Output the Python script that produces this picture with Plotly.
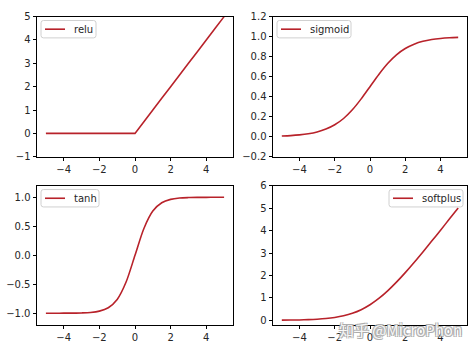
import plotly.graph_objects as go

x_vals = [-5.0, -4.5, -4.0, -3.5, -3.0, -2.5, -2.0, -1.5, -1.0, -0.5, 0.0,
          0.5, 1.0, 1.5, 2.0, 2.5, 3.0, 3.5, 4.0, 4.5, 5.0]
relu_vals = [0, 0, 0, 0, 0, 0, 0, 0, 0, 0, 0,
             0.5, 1.0, 1.5, 2.0, 2.5, 3.0, 3.5, 4.0, 4.5, 5.0]
sigmoid_vals = [0.007, 0.011, 0.018, 0.029, 0.047, 0.076, 0.119, 0.182, 0.269, 0.378, 0.5,
                0.622, 0.731, 0.818, 0.881, 0.924, 0.953, 0.971, 0.982, 0.989, 0.993]
tanh_vals = [-1.0, -1.0, -0.999, -0.998, -0.995, -0.987, -0.964, -0.905, -0.762, -0.462, 0.0,
             0.462, 0.762, 0.905, 0.964, 0.987, 0.995, 0.998, 0.999, 1.0, 1.0]
softplus_vals = [0.007, 0.011, 0.018, 0.030, 0.049, 0.079, 0.127, 0.201, 0.313, 0.474, 0.693,
                 0.974, 1.313, 1.701, 2.127, 2.579, 3.049, 3.530, 4.018, 4.511, 5.007]

names = ["relu", "sigmoid", "tanh", "softplus"]
series = [relu_vals, sigmoid_vals, tanh_vals, softplus_vals]
y_ranges = [[-1, 5], [-0.2, 1.2], [-1.2, 1.2], [-0.2, 6]]
y_ticks = [[-1, 0, 1, 2, 3, 4, 5],
           [-0.2, 0.0, 0.2, 0.4, 0.6, 0.8, 1.0, 1.2],
           [-1.0, -0.5, 0.0, 0.5, 1.0],
           [0, 1, 2, 3, 4, 5, 6]]
y_tickfmt = ["d", ".1f", ".1f", "d"]
x_ticks = [-4, -2, 0, 2, 4]
watermark = "知乎 @MicroPhon"

W, H = 474, 354
# axes boxes in pixels: (left, right, top, bottom)
boxes_px = [(37, 233, 11, 156), (273, 467, 11, 156), (37, 233, 186, 330), (273, 467, 186, 330)]
legend_w = [55, 74, 58, 74]
legend_side = ["left", "left", "left", "right"]

line_color = "#b8222a"
font = dict(family="DejaVu Sans", size=10, color="#262626")


def px(xp):
    return xp / W


def py(yp):
    return 1 - yp / H


fig = go.Figure()
layout = dict(width=W, height=H, margin=dict(l=0, r=0, t=0, b=0),
              paper_bgcolor="white", plot_bgcolor="white", font=font, showlegend=False)

shapes = []
annotations = []
for i in range(4):
    r, c = divmod(i, 2)
    L, R, T, B = boxes_px[i]
    sfx = "" if i == 0 else str(i + 1)
    fig.add_trace(go.Scatter(
        x=x_vals, y=series[i], mode="lines", name=names[i],
        line=dict(color=line_color, width=1.6, shape="spline", smoothing=0.8 if i else 0),
        xaxis="x" + sfx, yaxis="y" + sfx))
    common = dict(showline=True, linecolor="black", linewidth=1, mirror=True,
                  ticks="outside", ticklen=3.5, tickwidth=1, tickcolor="black",
                  showgrid=False, zeroline=False, tickfont=font)
    layout["xaxis" + sfx] = dict(domain=[px(L), px(R)], range=[-5.5, 5.5],
                                 tickvals=x_ticks, anchor="y" + sfx, **common)
    layout["yaxis" + sfx] = dict(domain=[py(B), py(T)], range=y_ranges[i],
                                 tickvals=y_ticks[i], tickformat=y_tickfmt[i],
                                 anchor="x" + sfx, **common)

    # legend box (matplotlib style)
    w = legend_w[i]
    lx0 = L + 4 if legend_side[i] == "left" else R - 4 - w
    lx1 = lx0 + w
    ly0 = T + 4
    ly1 = ly0 + 18
    rr = 2.5
    path = (f"M {px(lx0 + rr)},{py(ly0)} L {px(lx1 - rr)},{py(ly0)} "
            f"Q {px(lx1)},{py(ly0)} {px(lx1)},{py(ly0 + rr)} "
            f"L {px(lx1)},{py(ly1 - rr)} Q {px(lx1)},{py(ly1)} {px(lx1 - rr)},{py(ly1)} "
            f"L {px(lx0 + rr)},{py(ly1)} Q {px(lx0)},{py(ly1)} {px(lx0)},{py(ly1 - rr)} "
            f"L {px(lx0)},{py(ly0 + rr)} Q {px(lx0)},{py(ly0)} {px(lx0 + rr)},{py(ly0)} Z")
    shapes.append(dict(type="path", xref="paper", yref="paper", path=path,
                       fillcolor="rgba(255,255,255,0.8)",
                       line=dict(color="#d0d0d0", width=1)))
    ym = (ly0 + ly1) / 2
    shapes.append(dict(type="line", xref="paper", yref="paper",
                       x0=px(lx0 + 4), x1=px(lx0 + 24), y0=py(ym), y1=py(ym),
                       line=dict(color=line_color, width=1.6)))
    annotations.append(dict(text=names[i], xref="paper", yref="paper",
                            x=px(lx0 + 31), y=py(ym), xanchor="left", yanchor="middle",
                            showarrow=False, font=font))

annotations.append(dict(text=watermark, xref="paper", yref="paper",
                        x=px(400), y=py(335), xanchor="center", yanchor="middle",
                        showarrow=False,
                        font=dict(family="Noto Sans CJK SC", size=15,
                                  color="rgba(255,255,255,0.9)",
                                  shadow="1px 1px 0 #aaa, -1px -1px 0 #aaa, 1px -1px 0 #aaa, -1px 1px 0 #aaa")))
layout["shapes"] = shapes
layout["annotations"] = annotations
fig.update_layout(**layout)
fig.write_html("out.html")
